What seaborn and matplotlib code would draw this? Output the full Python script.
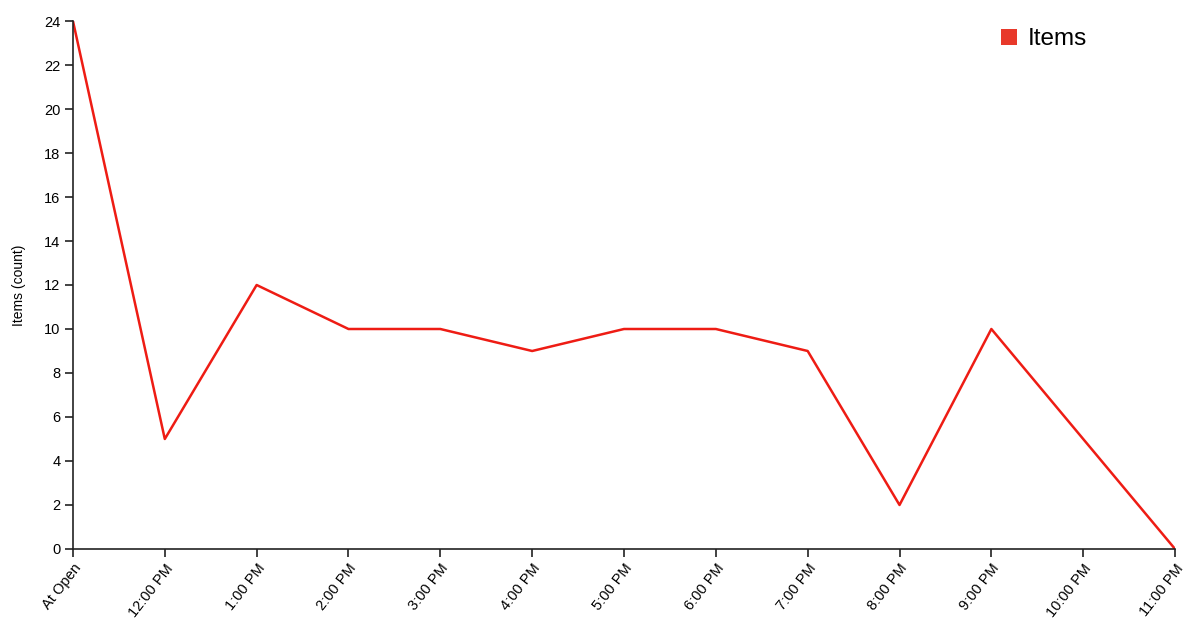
import pandas as pd
import matplotlib
matplotlib.use("Agg")
import matplotlib.pyplot as plt
import seaborn as sns
from matplotlib.patches import Patch

# Donnees
times = ["At Open", "12:00 PM", "1:00 PM", "2:00 PM", "3:00 PM", "4:00 PM",
         "5:00 PM", "6:00 PM", "7:00 PM", "8:00 PM", "9:00 PM", "10:00 PM", "11:00 PM"]
items = [24, 5, 12, 10, 10, 9, 10, 10, 9, 2, 10, 5, 0]

df = pd.DataFrame({"time": times, "items": items})

sns.set_style("white")
plt.rcParams["font.family"] = ["Liberation Sans", "DejaVu Sans"]
plt.rcParams.update({
    "text.color": "black",
    "axes.labelcolor": "black",
    "xtick.color": "black",
    "ytick.color": "black",
})

fig = plt.figure(figsize=(12, 6.29), dpi=100)
ax = fig.add_axes([0.0608, 0.1272, 0.9184, 0.8394])

sns.lineplot(data=df, x="time", y="items", ax=ax, color="#ee1c14", linewidth=1.8, sort=False)

ax.set_xlim(0, len(times) - 1)
ax.set_ylim(0, 24)
ax.set_yticks(range(0, 25, 2))
ax.set_xticks(range(len(times)))
ax.set_xticklabels(times, rotation=52, ha="right", rotation_mode="anchor", fontsize=10.5)
ax.tick_params(axis="y", labelsize=10.5)
ax.tick_params(direction="out", length=6, width=1.2, color="#222222", left=True, bottom=True, pad=3)
ax.set_xlabel("")
ax.set_ylabel("Items (count)", fontsize=10, labelpad=13)

for side in ["top", "right"]:
    ax.spines[side].set_visible(False)
for side in ["left", "bottom"]:
    ax.spines[side].set_color("#222222")
    ax.spines[side].set_linewidth(1.2)

handle = Patch(facecolor="#e8392b", edgecolor="none", label="Items")
fig.legend(handles=[handle], loc="upper left", bbox_to_anchor=(0.816, 0.99),
           frameon=False, fontsize=17.5, handlelength=0.65, handleheight=0.65, handletextpad=0.45)

fig.savefig("out.png", dpi=100)
